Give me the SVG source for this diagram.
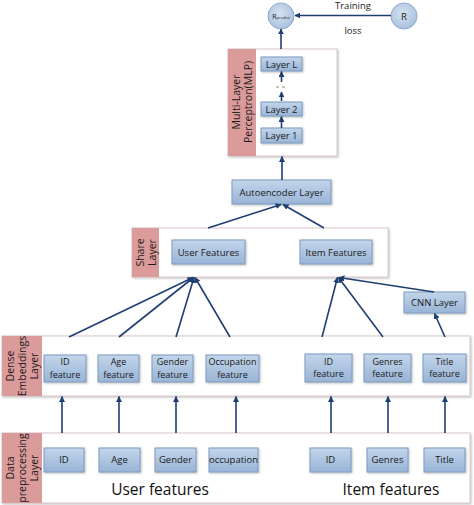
<svg xmlns="http://www.w3.org/2000/svg" width="474" height="505" viewBox="0 0 474 505">
<defs>
<linearGradient id="bg" x1="0" y1="0" x2="0" y2="1">
<stop offset="0" stop-color="#c3d5ea"/>
<stop offset="1" stop-color="#98b4d6"/>
</linearGradient>
<radialGradient id="cg" cx="0.45" cy="0.4" r="0.6">
<stop offset="0" stop-color="#d6e3f2"/>
<stop offset="1" stop-color="#a9c1de"/>
</radialGradient>
<marker id="ah" viewBox="0 0 10 10" refX="9" refY="5" markerWidth="6" markerHeight="6" orient="auto-start-reverse" markerUnits="userSpaceOnUse">
<path d="M0,0 L10,5 L0,10 z" fill="#1f3f73"/>
</marker>
<filter id="sh" x="-5%" y="-5%" width="115%" height="120%">
<feDropShadow dx="1" dy="1" stdDeviation="0.8" flood-color="#808080" flood-opacity="0.5"/>
</filter>
</defs>
<style>
.box{fill:url(#bg);stroke:#7e9cc4;stroke-width:1;filter:url(#sh)}
.layer{fill:#ffffff;stroke:#dcc8cc;stroke-width:1;filter:url(#sh)}
.strip{fill:#dc9b9b}
.t{font-family:"Open Sans","Liberation Sans",sans-serif;font-size:9.5px;fill:#1a1a1a;text-anchor:middle}
.t2{font-family:"Open Sans","Liberation Sans",sans-serif;font-size:9px;fill:#1a1a1a;text-anchor:middle}
.lt{font-family:"Open Sans","Liberation Sans",sans-serif;font-size:10.5px;fill:#1a1a1a;text-anchor:middle}
.big{font-family:"Open Sans","Liberation Sans",sans-serif;font-size:15.5px;fill:#111;text-anchor:middle}
.c{stroke:#1f3f73;stroke-width:1.6;fill:none;marker-end:url(#ah)}
.circ{fill:url(#cg);stroke:#8eaacc;stroke-width:1}
</style>

<g id="r-predict"><circle class="circ" cx="281" cy="16" r="13"/><text class="t" x="281" y="19" style="font-size:7px">R<tspan style="font-size:4px">predict</tspan></text></g>
<g id="r"><circle class="circ" cx="404" cy="16" r="13"/><text class="t" x="404" y="19.5">R</text></g>
<text class="t" x="353" y="9">Training</text>
<text class="t" x="353" y="34">loss</text>

<g id="mlp">
<rect class="layer" x="228" y="49" width="109" height="107"/>
<rect class="strip" x="228" y="49" width="28" height="107"/>
<text class="lt" transform="translate(242,102) rotate(-90)"><tspan x="0" y="-2">Multi-Layer</tspan><tspan x="0" y="10">Perceptron(MLP)</tspan></text>
</g>
<g id="layer-l"><rect class="box" x="261" y="57" width="41" height="14"/><text class="t" x="281.5" y="67.5">Layer L</text></g>
<g id="layer-2"><rect class="box" x="261" y="102" width="41" height="14"/><text class="t" x="281.5" y="112.5">Layer 2</text></g>
<g id="layer-1"><rect class="box" x="261" y="128" width="41" height="15"/><text class="t" x="281.5" y="139">Layer 1</text></g>
<g id="dots"><line x1="276" y1="87" x2="287" y2="87" stroke="#888" stroke-width="1" stroke-dasharray="3,3"/></g>

<g id="autoencoder"><rect class="box" x="232" y="180" width="99" height="24"/><text class="t" x="281.5" y="195.5">Autoencoder Layer</text></g>

<g id="share-layer">
<rect class="layer" x="132" y="228" width="256" height="49"/>
<rect class="strip" x="132" y="228" width="27" height="49"/>
<text class="lt" transform="translate(145.5,252.5) rotate(-90)"><tspan x="0" y="-2">Share</tspan><tspan x="0" y="10">Layer</tspan></text>
</g>
<g id="user-features"><rect class="box" x="172" y="240" width="73" height="24"/><text class="t" x="208.5" y="255.5">User Features</text></g>
<g id="item-features"><rect class="box" x="300" y="240" width="72" height="24"/><text class="t" x="336" y="255.5">Item Features</text></g>
<g id="cnn-layer"><rect class="box" x="404" y="292" width="61" height="21"/><text class="t" x="434.5" y="306">CNN Layer</text></g>

<g id="dense-layer">
<rect class="layer" x="2" y="336" width="468" height="60"/>
<rect class="strip" x="2" y="336" width="40" height="60"/>
<text class="lt" transform="translate(22,366) rotate(-90)"><tspan x="0" y="-8">Dense</tspan><tspan x="0" y="4">Embeddings</tspan><tspan x="0" y="16">Layer</tspan></text>
</g>
<g id="d-id"><rect class="box" x="44" y="355" width="42" height="27"/><text class="t2" x="65" y="365">ID</text><text class="t2" x="65" y="377.5">feature</text></g>
<g id="d-age"><rect class="box" x="98" y="355" width="41" height="27"/><text class="t2" x="118.5" y="365">Age</text><text class="t2" x="118.5" y="377.5">feature</text></g>
<g id="d-gender"><rect class="box" x="152" y="355" width="41" height="27"/><text class="t2" x="172.5" y="365">Gender</text><text class="t2" x="172.5" y="377.5">feature</text></g>
<g id="d-occupation"><rect class="box" x="206" y="355" width="53" height="27"/><text class="t2" x="232.5" y="365">Occupation</text><text class="t2" x="232.5" y="377.5">feature</text></g>
<g id="d-item-id"><rect class="box" x="305" y="354" width="47" height="28"/><text class="t2" x="328.5" y="364.5">ID</text><text class="t2" x="328.5" y="377">feature</text></g>
<g id="d-genres"><rect class="box" x="364" y="354" width="47" height="28"/><text class="t2" x="387.5" y="364.5">Genres</text><text class="t2" x="387.5" y="377">feature</text></g>
<g id="d-title"><rect class="box" x="423" y="354" width="43" height="28"/><text class="t2" x="444.5" y="364.5">Title</text><text class="t2" x="444.5" y="377">feature</text></g>

<g id="data-layer">
<rect class="layer" x="2" y="433" width="468" height="70"/>
<rect class="strip" x="2" y="433" width="40" height="70"/>
<text class="lt" transform="translate(22,468) rotate(-90)"><tspan x="0" y="-8">Data</tspan><tspan x="0" y="4">preprocessing</tspan><tspan x="0" y="16">Layer</tspan></text>
</g>
<g id="p-id"><rect class="box" x="44" y="448" width="40" height="24"/><text class="t" x="64" y="463">ID</text></g>
<g id="p-age"><rect class="box" x="99" y="448" width="41" height="24"/><text class="t" x="119.5" y="463">Age</text></g>
<g id="p-gender"><rect class="box" x="155" y="448" width="41" height="24"/><text class="t" x="175.5" y="463">Gender</text></g>
<g id="p-occupation"><rect class="box" x="209" y="448" width="49" height="24"/><text class="t" x="233.5" y="463">occupation</text></g>
<g id="p-item-id"><rect class="box" x="310" y="448" width="41" height="24"/><text class="t" x="330.5" y="463">ID</text></g>
<g id="p-genres"><rect class="box" x="367" y="448" width="41" height="24"/><text class="t" x="387.5" y="463">Genres</text></g>
<g id="p-title"><rect class="box" x="424" y="448" width="41" height="24"/><text class="t" x="444.5" y="463">Title</text></g>
<text class="big" x="160" y="495">User features</text>
<text class="big" x="391" y="495">Item features</text>

<g id="connectors">
<line class="c" x1="391" y1="15.5" x2="295" y2="15.5"/>
<line class="c" x1="281" y1="49" x2="281" y2="29"/>
<line class="c" x1="281.5" y1="82" x2="281.5" y2="71.5"/>
<line class="c" x1="281.5" y1="101" x2="281.5" y2="92"/>
<line class="c" x1="281.5" y1="128" x2="281.5" y2="116.5"/>
<line class="c" x1="282" y1="180" x2="282" y2="156.5"/>
<line class="c" x1="208" y1="228" x2="281" y2="204.5"/>
<line class="c" x1="324" y1="228" x2="283" y2="204.5"/>
<line class="c" x1="69" y1="337" x2="193" y2="277.5"/>
<line class="c" x1="119" y1="337" x2="193.5" y2="277.5"/>
<line class="c" x1="176" y1="337" x2="194" y2="277.5"/>
<line class="c" x1="230" y1="337" x2="195" y2="277.5"/>
<line class="c" x1="322" y1="337" x2="337.5" y2="277.5"/>
<line class="c" x1="383" y1="337" x2="338.5" y2="277.5"/>
<line class="c" x1="434" y1="292" x2="339" y2="277.5"/>
<line class="c" x1="445" y1="337" x2="434.5" y2="313.5"/>
<line class="c" x1="62" y1="433" x2="62" y2="396.5"/>
<line class="c" x1="119" y1="433" x2="119" y2="396.5"/>
<line class="c" x1="176" y1="433" x2="176" y2="396.5"/>
<line class="c" x1="236" y1="433" x2="236" y2="396.5"/>
<line class="c" x1="331" y1="433" x2="331" y2="396.5"/>
<line class="c" x1="388" y1="433" x2="388" y2="396.5"/>
<line class="c" x1="445" y1="433" x2="445" y2="396.5"/>
</g>
</svg>
